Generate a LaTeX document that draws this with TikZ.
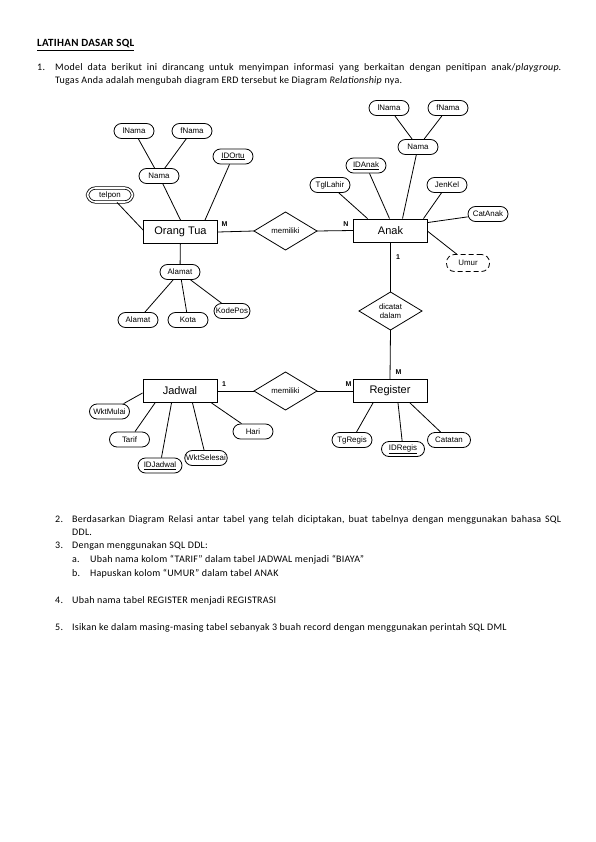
\documentclass[tikz,border=0pt]{standalone}
\usepackage{fontspec}
\setmainfont{Carlito}[LetterSpace=2.5]
\newfontfamily\diafont{Liberation Sans}
\usetikzlibrary{calc}
\begin{document}
\begin{tikzpicture}[x=1pt,y=-1pt,
  ent/.style={draw,line width=0.9pt,minimum width=74pt,minimum height=23pt,inner sep=1pt,font=\diafont\fontsize{11}{12}\selectfont},
  att/.style={draw,line width=0.8pt,rounded corners=7.5pt,minimum width=40pt,minimum height=15pt,inner xsep=1.5pt,inner ysep=0pt,font=\diafont\fontsize{7.9}{8}\selectfont},
  reltxt/.style={font=\diafont\fontsize{7.8}{9}\selectfont,inner sep=0pt,align=center},
  conn/.style={line width=0.8pt},
  card/.style={font=\diafont\bfseries\fontsize{7}{8}\selectfont,inner sep=0pt},
  body/.style={font=\fontsize{10}{12}\selectfont,anchor=base west,inner sep=0pt},
]
\useasboundingbox (0,0) rectangle (595,842);
\fill[white] (0,0) rectangle (595,842);

% ---------- text ----------
\node[body,font=\fontsize{11}{12}\selectfont] (title) at (37,47) {\textbf{\underline{LATIHAN DASAR SQL}}};
\node[body] (n1) at (37,71) {1.};
\node[body] (l1a) at (55,71) {\makebox[506pt][s]{Model data berikut ini dirancang untuk menyimpan informasi yang berkaitan dengan penitipan anak/\textit{playgroup}.}};
\node[body] (l1b) at (55,84) {Tugas Anda adalah mengubah diagram ERD tersebut ke Diagram \textit{Relationship} nya.};

\node[body] (n2) at (55,522) {2.};
\node[body] (l2a) at (72,522) {\makebox[489pt][s]{Berdasarkan Diagram Relasi antar tabel yang telah diciptakan, buat tabelnya dengan menggunakan bahasa SQL}};
\node[body] (l2b) at (72,535) {DDL.};
\node[body] (n3) at (55,548) {3.};
\node[body] (l3) at (72,548) {Dengan menggunakan SQL DDL:};
\node[body] (na) at (72,562) {a.};
\node[body] (la) at (90,562) {Ubah nama kolom ``TARIF'' dalam tabel JADWAL menjadi ``BIAYA''};
\node[body] (nb) at (72,576) {b.};
\node[body] (lb) at (90,576) {Hapuskan kolom ``UMUR'' dalam tabel ANAK};
\node[body] (n4) at (55,603) {4.};
\node[body] (l4) at (72,603) {Ubah nama tabel REGISTER menjadi REGISTRASI};
\node[body] (n5) at (55,630) {5.};
\node[body] (l5) at (72,630) {Isikan ke dalam masing-masing tabel sebanyak 3 buah record dengan menggunakan perintah SQL DML};

% ---------- entities ----------
\node[ent] (ot) at (180.5,232) {Orang Tua};
\node[ent] (anak) at (390.5,230.5) {Anak};
\node[ent] (jad) at (180,391) {Jadwal};
\node[ent] (reg) at (390,391) {Register};

% ---------- relationships ----------
\coordinate (m1) at (285.5,231);
\draw[conn] (285.5,212) coordinate (m1t) -- (317,231) coordinate (m1r) -- (285.5,250) coordinate (m1b) -- (254,231) coordinate (m1l) -- cycle;
\node[reltxt] (m1txt) at (m1) {memiliki};

\coordinate (m2) at (285.5,391);
\draw[conn] (285.5,372) coordinate (m2t) -- (317,391) coordinate (m2r) -- (285.5,410) coordinate (m2b) -- (254,391) coordinate (m2l) -- cycle;
\node[reltxt] (m2txt) at (m2) {memiliki};

\coordinate (dc) at (390.5,311);
\draw[conn] (390.5,292) coordinate (dct) -- (422,311) coordinate (dcr) -- (390.5,330) coordinate (dcb) -- (359,311) coordinate (dcl) -- cycle;
\node[reltxt] (dctxt) at (dc) {dicatat\\dalam};

% ---------- Orang Tua attributes ----------
\node[att] (otl) at (134,131) {lNama};
\node[att] (otf) at (192,131) {fNama};
\node[att] (otn) at (159,176) {Nama};
\node[att] (otid) at (233,156.5) {\underline{IDOrtu}};
\node[att,double,double distance=1.6pt,rounded corners=8pt,minimum width=45pt,minimum height=14pt] (ottel) at (110,195) {telpon};
\node[att] (otal) at (180,272) {Alamat};
\node[att] (otala) at (138,320) {Alamat};
\node[att] (otk) at (188,320) {Kota};
\node[att,minimum width=36pt] (otkp) at (232,311) {KodePos};

\draw[conn] (otl) -- (otn);
\draw[conn] (otf) -- (otn);
\draw[conn] (otn) -- ($(ot.north)+(0,0)$);
\draw[conn] (otid) -- ($(ot.north)+(24.5,0)$);
\draw[conn] (ottel) -- ($(ot.west)+(0,-2)$);
\draw[conn] (ot) -- (otal);
\draw[conn] (otal) -- (otala);
\draw[conn] (otal) -- (otk);
\draw[conn] (otal) -- (otkp);

% ---------- Anak attributes ----------
\node[att] (anl) at (389,108) {lNama};
\node[att] (anf) at (448,108) {fNama};
\node[att] (ann) at (418,147) {Nama};
\node[att] (anid) at (366,165.5) {\underline{IDAnak}};
\node[att] (antl) at (330,185) {TglLahir};
\node[att] (anjk) at (447,185) {JenKel};
\node[att] (anca) at (488,214) {CatAnak};
\node[att,dashed,dash pattern=on 5pt off 3pt,minimum width=43pt,minimum height=17pt,rounded corners=8pt] (anum) at (468,263) {Umur};

\draw[conn] (anl) -- (ann);
\draw[conn] (anf) -- (ann);
\draw[conn] (ann) -- ($(anak.north)+(12,0)$);
\draw[conn] (anid) -- ($(anak.north)+(-1,0)$);
\draw[conn] (antl) -- ($(anak.north)+(-23,0)$);
\draw[conn] (anjk) -- ($(anak.north)+(33,0)$);
\draw[conn] (anca) -- ($(anak.east)+(0,-8)$);
\draw[conn] ($(anak.east)+(0,1)$) -- (anum);

% ---------- Jadwal attributes ----------
\node[att] (jwm) at (109.5,411.5) {WktMulai};
\node[att] (jtf) at (129.5,439.5) {Tarif};
\node[att,minimum width=44pt] (jid) at (160,465.5) {\underline{IDJadwal}};
\node[att,minimum width=37pt] (jws) at (206,458) {WktSelesai};
\node[att] (jh) at (253,431.5) {Hari};

\draw[conn] (jwm) -- ($(jad.west)+(0,2)$);
\draw[conn] (jtf) -- ($(jad.south)+(-25,0)$);
\draw[conn] (jid) -- ($(jad.south)+(-8.5,0)$);
\draw[conn] (jws) -- ($(jad.south)+(12.5,0)$);
\draw[conn] (jh) -- ($(jad.south)+(31.5,0)$);

% ---------- Register attributes ----------
\node[att] (rtg) at (352,440) {TgRegis};
\node[att,minimum width=43pt] (rid) at (403,449) {\underline{IDRegis}};
\node[att,minimum width=43pt] (rct) at (449,440) {Catatan};

\draw[conn] (rtg) -- ($(reg.south)+(-17,0)$);
\draw[conn] (rid) -- ($(reg.south)+(8,0)$);
\draw[conn] (rct) -- ($(reg.south)+(20,0)$);

% ---------- relationship connectors ----------
\draw[conn] (ot.east) -- (m1l);
\draw[conn] (m1r) -- (anak.west);
\draw[conn] (anak.south) -- (dct);
\draw[conn] (dcb) -- (reg.north);
\draw[conn] (jad.east) -- (m2l);
\draw[conn] (m2r) -- (reg.west);

% ---------- cardinalities ----------
\node[card] (c1) at (224.5,224.5) {M};
\node[card] (c2) at (346,224.5) {N};
\node[card] (c3) at (398,257) {1};
\node[card] (c4) at (398.5,372.5) {M};
\node[card] (c5) at (224,384) {1};
\node[card] (c6) at (348.5,384) {M};
\end{tikzpicture}
\end{document}
